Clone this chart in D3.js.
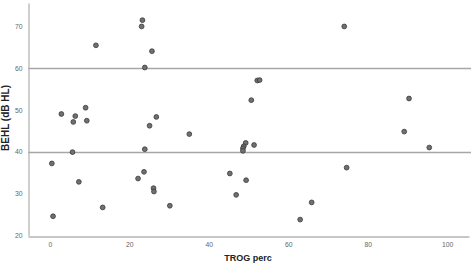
<!DOCTYPE html>
<html>
<head>
<meta charset="utf-8">
<script src="https://cdn.jsdelivr.net/npm/d3@7"></script>
<style>
  body { margin: 0; background: #fff; }
  svg { display: block; font-family: Arial, "Liberation Sans", sans-serif; }
</style>
</head>
<body>
<div class="container"></div>
<script>
// data
const trog = [23.3, 23.1, 11.6, 25.7, 23.9, 9.0, 2.9, 6.4, 26.8, 5.9, 9.3, 25.1, 23.9, 5.7, 0.5, 23.7, 22.2, 7.3, 26.1, 26.2, 13.3, 0.8,
  52.2, 52.8, 50.7, 35.1, 49.3, 48.8, 48.6, 48.6, 51.4, 45.3, 49.4, 46.9, 30.2, 65.9, 63.0,
  74.1, 90.4, 89.2, 95.5, 74.7];
const behl = [71.4, 69.9, 65.4, 64.0, 60.1, 50.5, 49.0, 48.5, 48.3, 47.1, 47.4, 46.2, 40.6, 39.9, 37.2, 35.2, 33.6, 32.8, 31.3, 30.5, 26.7, 24.6,
  57.0, 57.1, 52.3, 44.2, 42.1, 41.3, 40.8, 40.2, 41.6, 34.8, 33.2, 29.7, 27.1, 27.9, 23.8,
  69.9, 52.7, 44.8, 41.0, 36.2];
const xTicks = [0, 20, 40, 60, 80, 100];
const yTicks = [20, 30, 40, 50, 60, 70];
const refLines = [40, 60];

const width = 474;
const height = 265;
const margin = { top: 3, right: 5, bottom: 30, left: 28 };

const svg = d3.select(".container")
  .append("svg")
  .attr("width", width)
  .attr("height", height);

const xScale = d3.scaleLinear()
  .domain([-5.5, 105.5])
  .range([margin.left, width - margin.right]);

const yScale = d3.scaleLinear()
  .domain([20, 75.5])
  .range([height - margin.bottom + 0.5, margin.top]);

// reference lines
svg.append("g")
  .selectAll("line")
  .data(refLines)
  .join("line")
  .attr("x1", margin.left)
  .attr("x2", width - margin.right + 2)
  .attr("y1", d => Math.round(yScale(d)) + 0.5)
  .attr("y2", d => Math.round(yScale(d)) + 0.5)
  .attr("stroke", "#a6a6a6")
  .attr("stroke-width", 1.3);

// x axis
const xAxis = svg.append("g")
  .attr("transform", `translate(0, ${Math.round(yScale(20)) + 0.5})`)
  .call(d3.axisBottom(xScale).tickValues(xTicks).tickSize(0).tickPadding(6));
xAxis.select(".domain").attr("stroke", "#b5b5b5").attr("stroke-width", 1.3);
xAxis.selectAll("text").attr("fill", "#666").attr("font-size", "6.8px");

// y axis
const yAxis = svg.append("g")
  .attr("transform", `translate(${margin.left + 0.5}, 0)`)
  .call(d3.axisLeft(yScale).tickValues(yTicks).tickSize(0).tickPadding(6));
yAxis.select(".domain").attr("stroke", "#b5b5b5").attr("stroke-width", 1.3);
yAxis.selectAll("text").attr("fill", "#666").attr("font-size", "6.8px");

// points
svg.append("g")
  .selectAll("circle")
  .data(trog.map((d, i) => [d, behl[i]]))
  .join("circle")
  .attr("cx", d => xScale(d[0]))
  .attr("cy", d => yScale(d[1]))
  .attr("r", 2.4)
  .attr("fill", "#707070")
  .attr("stroke", "#383838")
  .attr("stroke-width", 0.8);

// axis titles
svg.append("text")
  .attr("x", 248)
  .attr("y", 261)
  .attr("text-anchor", "middle")
  .attr("font-size", "9px")
  .attr("font-weight", "bold")
  .attr("fill", "#222")
  .text("TROG perc");

svg.append("text")
  .attr("transform", "translate(9, 118) rotate(-90)")
  .attr("text-anchor", "middle")
  .attr("font-size", "10px")
  .attr("font-weight", "bold")
  .attr("fill", "#222")
  .text("BEHL (dB HL)");
</script>
</body>
</html>
